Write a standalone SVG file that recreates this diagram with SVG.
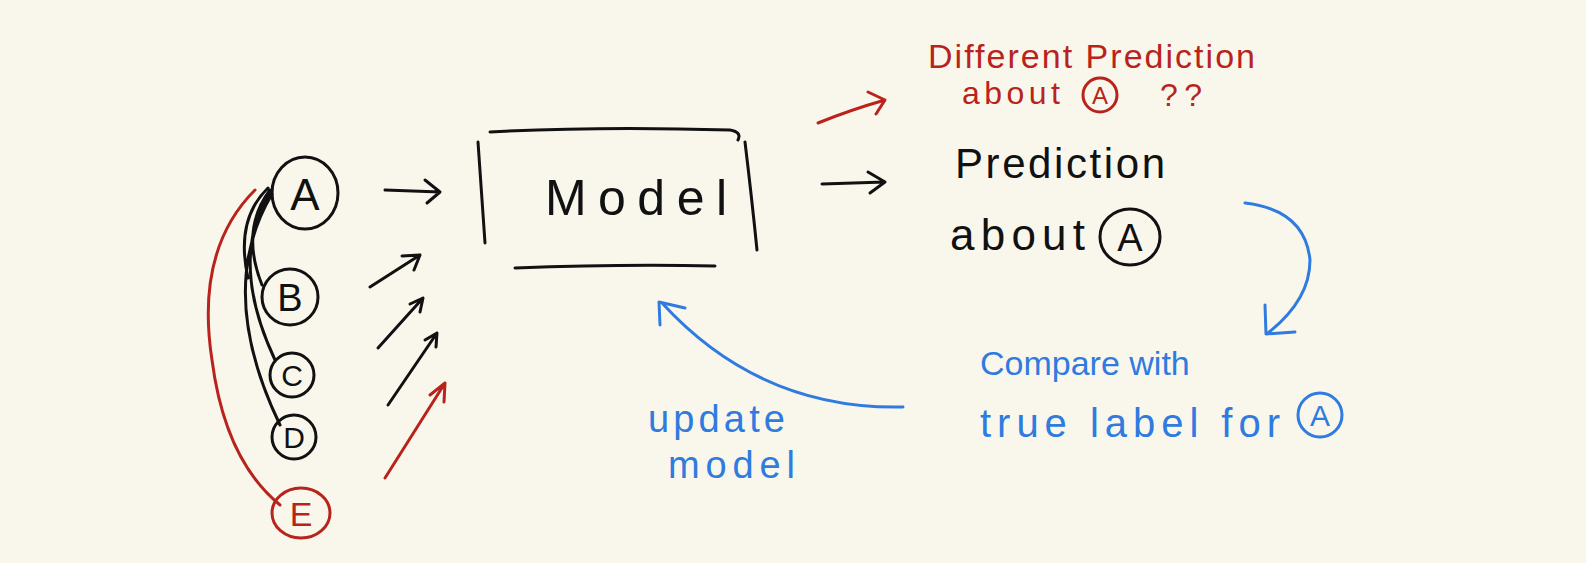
<svg xmlns="http://www.w3.org/2000/svg" width="1586" height="563" viewBox="0 0 1586 563">
<defs>
<style>
.k{fill:none;stroke:#111;stroke-width:3;stroke-linecap:round;stroke-linejoin:round}
.r{fill:none;stroke:#b8231c;stroke-width:3;stroke-linecap:round;stroke-linejoin:round}
.b{fill:none;stroke:#2f7be0;stroke-width:3;stroke-linecap:round;stroke-linejoin:round}
.t{font-family:"Liberation Sans",sans-serif;}
</style>
</defs>
<rect width="1586" height="563" fill="#f9f7ec"/>
<g id="nodeA"><ellipse class="k" cx="305" cy="193" rx="33" ry="36"/><text class="t" x="305" y="210" font-size="44" text-anchor="middle" fill="#111">A</text></g>
<g id="nodeB"><circle class="k" cx="290" cy="297" r="28"/><text class="t" x="290" y="311" font-size="38" text-anchor="middle" fill="#111">B</text></g>
<g id="nodeC"><circle class="k" cx="292" cy="375" r="22"/><text class="t" x="292" y="386" font-size="30" text-anchor="middle" fill="#111">C</text></g>
<g id="nodeD"><circle class="k" cx="294" cy="437" r="22"/><text class="t" x="294" y="448" font-size="30" text-anchor="middle" fill="#111">D</text></g>
<g id="nodeE"><ellipse class="r" cx="301" cy="513" rx="29" ry="25"/><text class="t" x="301" y="526" font-size="34" text-anchor="middle" fill="#b8231c">E</text></g>
<g id="model">
<path class="k" d="M490 132 Q600 126 730 130 Q742 132 738 140 M478 142 L485 243 M745 142 Q752 200 757 250 M515 268 Q620 264 715 266"/>
<text class="t" x="545" y="215" font-size="50" fill="#111" textLength="182" lengthAdjust="spacing">Model</text>
</g>
<g id="prediction">
<text class="t" x="955" y="178" font-size="42" fill="#111" textLength="210" lengthAdjust="spacing">Prediction</text>
<text class="t" x="950" y="250" font-size="44" fill="#111" textLength="135" lengthAdjust="spacing">about</text>
<ellipse class="k" cx="1130" cy="237" rx="30" ry="28"/><text class="t" x="1130" y="251" font-size="38" text-anchor="middle" fill="#111">A</text>
</g>
<g id="different">
<text class="t" x="928" y="68" font-size="34" fill="#b8231c" textLength="327" lengthAdjust="spacing">Different Prediction</text>
<text class="t" x="962" y="104" font-size="32" fill="#b8231c" textLength="98" lengthAdjust="spacing">about</text>
<circle class="r" cx="1100" cy="95" r="17"/><text class="t" x="1100" y="104" font-size="24" text-anchor="middle" fill="#b8231c">A</text>
<text class="t" x="1160" y="106" font-size="32" fill="#b8231c" textLength="42" lengthAdjust="spacing">??</text>
</g>
<g id="compare">
<text class="t" x="980" y="375" font-size="34" fill="#2f7be0">Compare with</text>
<text class="t" x="980" y="437" font-size="40" fill="#2f7be0" textLength="300" lengthAdjust="spacing">true label for</text>
<circle class="b" cx="1320" cy="415" r="22"/><text class="t" x="1320" y="426" font-size="30" text-anchor="middle" fill="#2f7be0">A</text>
</g>
<g id="update">
<text class="t" x="648" y="432" font-size="38" fill="#2f7be0" textLength="137" lengthAdjust="spacing">update</text>
<text class="t" x="668" y="478" font-size="38" fill="#2f7be0" textLength="127" lengthAdjust="spacing">model</text>
</g>
<g id="connectors">
<path class="k" d="M385 190 L440 192 M425 180 L440 192 L427 203"/>
<path class="k" d="M370 287 L420 255 M402 256 L420 255 L414 270"/>
<path class="k" d="M378 348 L423 298 M410 304 L423 298 L420 312"/>
<path class="k" d="M388 405 L437 333 M425 340 L437 333 L436 347"/>
<path class="r" d="M385 478 L445 383 M430 395 L445 383 L444 402"/>
<path class="k" d="M822 184 L885 182 M868 172 L885 182 L870 193"/>
<path class="r" d="M818 123 Q850 110 885 100 M868 92 L885 100 L876 114"/>
<path class="k" d="M270 190 Q240 230 262 285 M270 192 Q228 260 275 360 M272 194 Q215 290 280 425 M268 188 Q235 220 248 278"/>
<path class="r" d="M255 190 Q195 250 212 360 Q225 460 280 505"/>
<path class="b" d="M1245 203 Q1305 210 1310 260 Q1310 300 1268 333 M1265 305 L1266 334 L1295 332"/>
<path class="b" d="M903 407 Q760 410 662 303 M660 325 L659 302 L685 308"/>
</g>
</svg>
